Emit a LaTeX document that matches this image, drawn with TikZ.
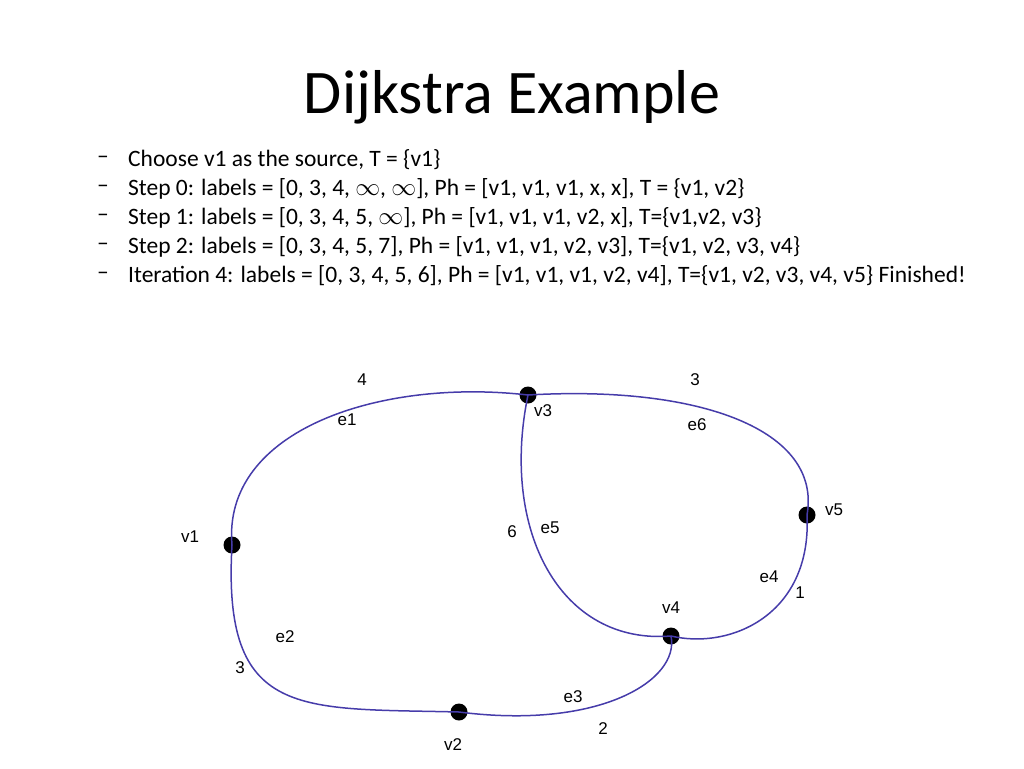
\documentclass[tikz,border=0pt]{standalone}
\usepackage{fontspec}
\setmainfont{Carlito}
\newfontfamily\arial{Liberation Sans}
\usepackage{amssymb}
\begin{document}
\begin{tikzpicture}[x=1pt,y=-1pt,
  vert/.style={circle,fill=black,inner sep=0pt,minimum size=17pt},
  edge/.style={draw={rgb,255:red,70;green,60;blue,170},line width=1.5pt},
  lbl/.style={font=\arial\fontsize{17}{17}\selectfont,inner sep=0pt},
  item/.style={anchor=west,font=\fontsize{23.5}{25}\selectfont,inner sep=0pt}]
\useasboundingbox (0,0) rectangle (1024,768);
\node[font=\fontsize{62}{62}\selectfont] (title) at (512,97) {Dijkstra Example};
\foreach \y/\t [count=\i] in {160/{Choose v1 as the source, T = \{v1\}},
 189/{Step 0: labels = [0, 3, 4, $\infty$, $\infty$], Ph = [v1, v1, v1, x, x], T = \{v1, v2\}},
 218/{Step 1: labels = [0, 3, 4, 5, $\infty$], Ph = [v1, v1, v1, v2, x], T=\{v1,v2, v3\}},
 247/{Step 2: labels = [0, 3, 4, 5, 7], Ph = [v1, v1, v1, v2, v3], T=\{v1, v2, v3, v4\}},
 276/{Iteration 4: labels = [0, 3, 4, 5, 6], Ph = [v1, v1, v1, v2, v4], T=\{v1, v2, v3, v4, v5\} Finished!}}
 {\node[item] (d\i) at (97,\y) {\textendash}; \node[item] (t\i) at (128,\y) {\t};}
\node[vert] (v1) at (232,545) {};
\node[vert] (v2) at (459,712) {};
\node[vert] (v3) at (528,395) {};
\node[vert] (v4) at (671,636) {};
\node[vert] (v5) at (807,515) {};
\path[edge] (v1.center) .. controls (222,430) and (380,378) .. (v3.center);
\path[edge] (v3.center) .. controls (700,385) and (822,430) .. (v5.center);
\path[edge] (v3.center) .. controls (500,530) and (560,645) .. (v4.center);
\path[edge] (v5.center) .. controls (812,615) and (730,650) .. (v4.center);
\path[edge] (v1.center) .. controls (222,720) and (300,708) .. (v2.center);
\path[edge] (v2.center) .. controls (600,730) and (680,680) .. (v4.center);
\foreach \n/\x/\y/\t in {a/362/380/4, b/347/420/e1, c/695/380/3, d/697/425/e6, e/543/411/v3,
 f/834/510/v5, g/512/532/6, h/550/528/e5, i/769/577/e4, j/800/593/1, k/671/608/v4,
 l/190/537/v1, m/285/637/e2, n/240/668/3, o/573/697/e3, p/603/729/2, q/453/745/v2}
 \node[lbl] (L\n) at (\x,\y) {\t};
\end{tikzpicture}
\end{document}
